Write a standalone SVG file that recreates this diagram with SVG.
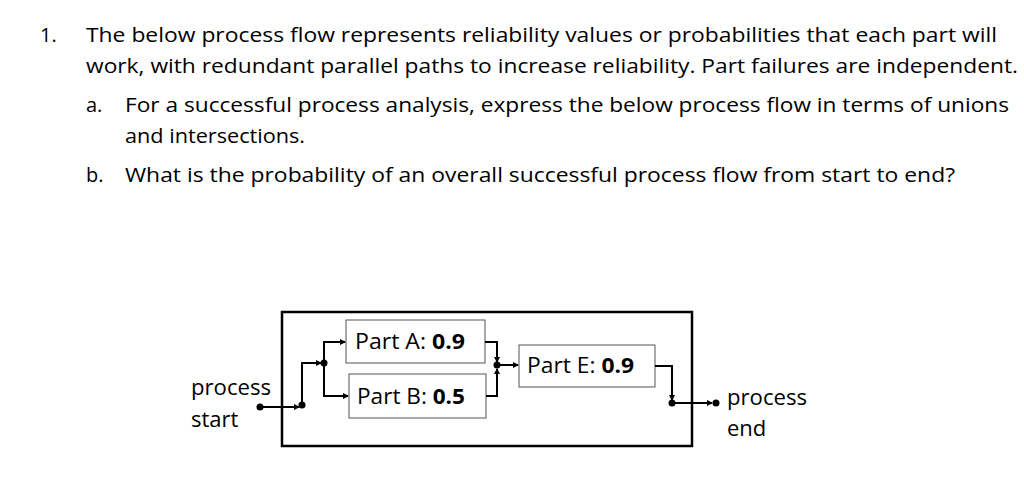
<svg xmlns="http://www.w3.org/2000/svg" width="1024" height="484" viewBox="0 0 1024 484">
<defs>
<style>
text{font-family:"Open Sans","Liberation Sans",sans-serif;fill:#000}
.q{font-size:20px}
.n{font-size:22px}
.box{fill:#fff;stroke:#555;stroke-width:1}
.c{fill:none;stroke:#000;stroke-width:2}
</style>
<marker id="a" markerWidth="6" markerHeight="6" refX="5" refY="3" orient="auto" markerUnits="userSpaceOnUse"><path d="M0,0L6,3L0,6z" fill="#000"/></marker>
</defs>
<rect width="1024" height="484" fill="#fff"/>
<g id="question">
<text class="q" x="40" y="42">1.</text>
<text class="q" x="86" y="42" textLength="911" lengthAdjust="spacingAndGlyphs">The below process flow represents reliability values or probabilities that each part will</text>
<text class="q" x="86" y="73" textLength="932" lengthAdjust="spacingAndGlyphs">work, with redundant parallel paths to increase reliability. Part failures are independent.</text>
<text class="q" x="86" y="112">a.</text>
<text class="q" x="125" y="112" textLength="884" lengthAdjust="spacingAndGlyphs">For a successful process analysis, express the below process flow in terms of unions</text>
<text class="q" x="125" y="143" textLength="180" lengthAdjust="spacingAndGlyphs">and intersections.</text>
<text class="q" x="86" y="182">b.</text>
<text class="q" x="125" y="182" textLength="830" lengthAdjust="spacingAndGlyphs">What is the probability of an overall successful process flow from start to end?</text>
</g>
<rect id="frame" x="282" y="312" width="410" height="134" fill="none" stroke="#000" stroke-width="2.5"/>
<g id="partA"><rect class="box" x="346" y="320" width="139" height="43"/><text class="n" x="355" y="349" textLength="110" lengthAdjust="spacingAndGlyphs">Part A: <tspan font-weight="bold">0.9</tspan></text></g>
<g id="partB"><rect class="box" x="349" y="374" width="137" height="44"/><text class="n" x="357" y="404" textLength="108" lengthAdjust="spacingAndGlyphs">Part B: <tspan font-weight="bold">0.5</tspan></text></g>
<g id="partE"><rect class="box" x="519" y="345" width="136" height="42"/><text class="n" x="527" y="373" textLength="107" lengthAdjust="spacingAndGlyphs">Part E: <tspan font-weight="bold">0.9</tspan></text></g>
<g id="start"><text class="n" x="191" y="395" textLength="80" lengthAdjust="spacingAndGlyphs">process</text><text class="n" x="191" y="427">start</text><circle cx="260" cy="407" r="3.5"/></g>
<g id="end"><text class="n" x="727" y="405" textLength="80" lengthAdjust="spacingAndGlyphs">process</text><text class="n" x="727" y="436">end</text><circle cx="716" cy="403" r="3.5"/></g>
<g id="connectors">
<path class="c" d="M260,407H299" marker-end="url(#a)"/>
<circle cx="302" cy="405" r="3.5"/>
<path class="c" d="M302,405V363H321" marker-end="url(#a)"/>
<circle cx="324" cy="363" r="3.5"/>
<path class="c" d="M324,363V342H345" marker-end="url(#a)"/>
<path class="c" d="M324,363V396H348" marker-end="url(#a)"/>
<path class="c" d="M485,342H497V362" marker-end="url(#a)"/>
<path class="c" d="M486,396H497V369" marker-end="url(#a)"/>
<circle cx="497" cy="365" r="3.5"/>
<path class="c" d="M497,365H518" marker-end="url(#a)"/>
<path class="c" d="M655,366H672V400" marker-end="url(#a)"/>
<circle cx="672" cy="403" r="3.5"/>
<path class="c" d="M672,403H712" marker-end="url(#a)"/>
</g>
</svg>
